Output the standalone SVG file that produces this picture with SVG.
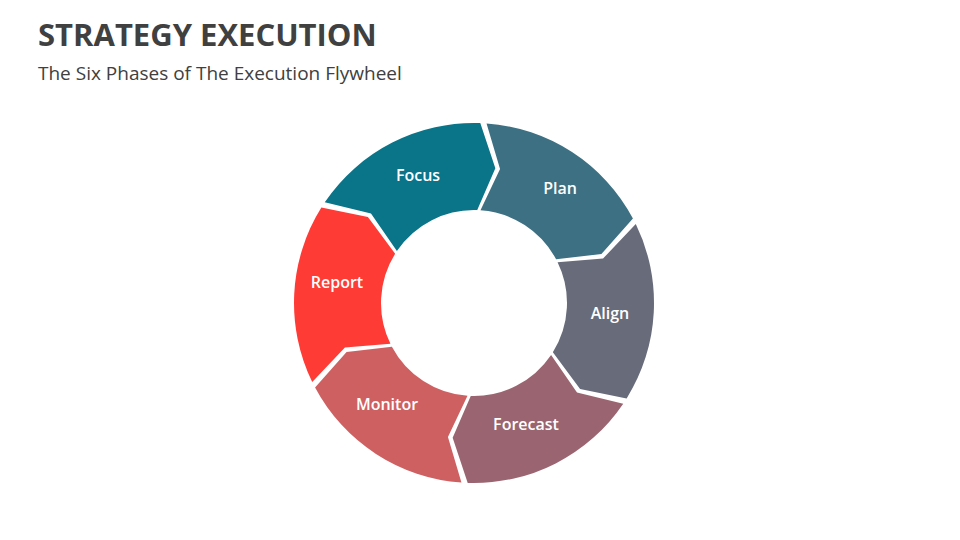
<svg xmlns="http://www.w3.org/2000/svg" width="960" height="540" viewBox="0 0 960 540">
<style>
.t{font-family:"Open Sans","Liberation Sans",sans-serif;fill:#404040}
.l{font-family:"Open Sans","Liberation Sans",sans-serif;fill:#fff;font-size:16px;font-weight:600;text-anchor:middle}
</style>
<defs>
<path id="seg" d="M180,0 A180,180 0 0 1 95.38,152.64 L57.69,123.71 L49.28,78.87 A93,93 0 0 0 93,0 L135.48,16.64 Z"/>
</defs>
<rect width="960" height="540" fill="#fff"/>
<text class="t" x="38" y="46" font-size="31" font-weight="700">STRATEGY EXECUTION</text>
<text class="t" x="38" y="80" font-size="19">The Six Phases of The Execution Flywheel</text>
<g id="connectors"/>
<g id="focus"><use href="#seg" fill="#0A7489" transform="translate(474,303) rotate(-146)"/><text class="l" x="418" y="181">Focus</text></g>
<g id="plan"><use href="#seg" fill="#3C7082" transform="translate(474,303) rotate(-86)"/><text class="l" x="560" y="194">Plan</text></g>
<g id="align"><use href="#seg" fill="#676B7A" transform="translate(474,303) rotate(-26)"/><text class="l" x="610" y="319">Align</text></g>
<g id="forecast"><use href="#seg" fill="#9A6570" transform="translate(474,303) rotate(34)"/><text class="l" x="526" y="430">Forecast</text></g>
<g id="monitor"><use href="#seg" fill="#CF6062" transform="translate(474,303) rotate(94)"/><text class="l" x="387" y="410">Monitor</text></g>
<g id="report"><use href="#seg" fill="#FF3B36" transform="translate(474,303) rotate(154)"/><text class="l" x="337" y="288">Report</text></g>
</svg>
